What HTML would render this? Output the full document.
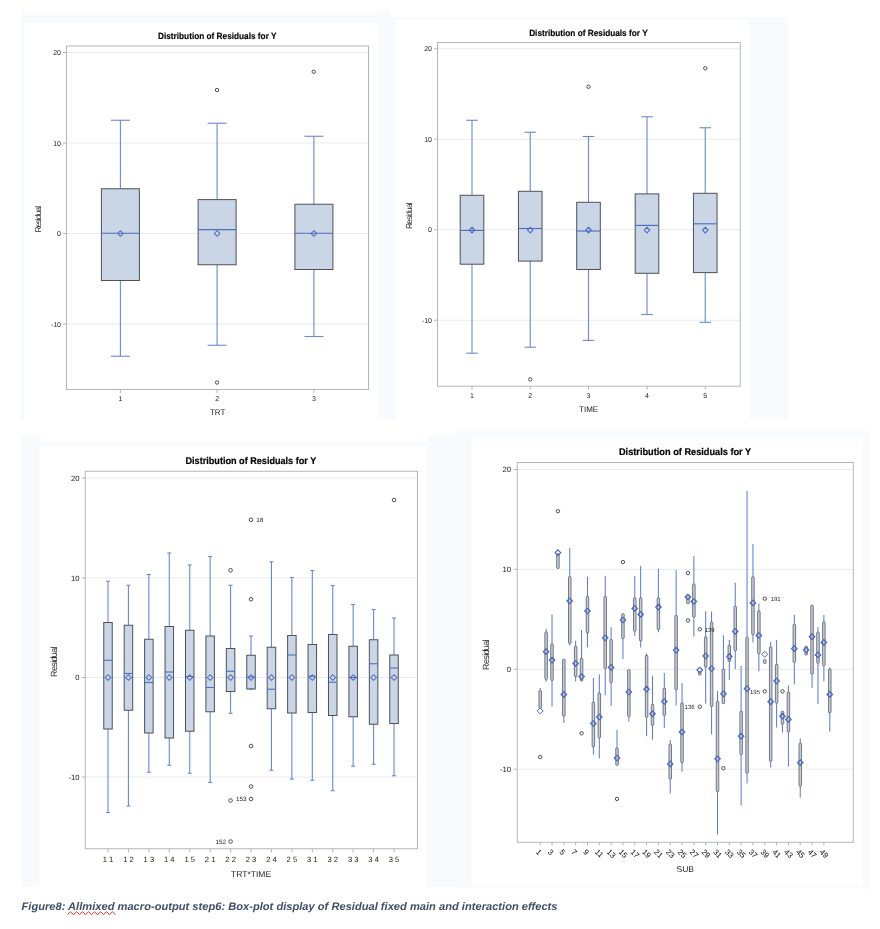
<!DOCTYPE html>
<html><head><meta charset="utf-8"><title>Figure 8</title>
<style>
html,body{margin:0;padding:0;background:#ffffff;}
body{width:880px;height:929px;overflow:hidden;font-family:"Liberation Sans",sans-serif;}
svg{display:block;filter:blur(0.3px);}
</style></head><body>
<svg width="880" height="929" viewBox="0 0 880 929" font-family="'Liberation Sans', sans-serif" text-rendering="geometricPrecision">
<rect width="880" height="929" fill="#ffffff"/>
<rect x="21.00" y="10.00" width="3.50" height="3.00" fill="#f9fafe"/>
<rect x="377.50" y="10.00" width="12.50" height="3.00" fill="#f9fafe"/>
<rect x="21.00" y="13.00" width="369.00" height="406.50" fill="#f9fafe"/>
<rect x="24.50" y="23.00" width="353.00" height="396.50" fill="#ffffff"/>
<rect x="390.50" y="17.00" width="397.50" height="402.00" fill="#f9fafe"/>
<rect x="395.50" y="20.00" width="354.00" height="399.00" fill="#ffffff"/>
<rect x="21.25" y="435.00" width="434.75" height="451.75" fill="#f9fafe"/>
<rect x="39.25" y="446.00" width="387.75" height="440.75" fill="#ffffff"/>
<rect x="39.25" y="435.00" width="387.75" height="7.00" fill="#ffffff"/>
<rect x="456.00" y="431.00" width="413.80" height="456.80" fill="#f9fafe"/>
<rect x="471.25" y="437.00" width="391.75" height="448.60" fill="#ffffff"/>
<line x1="66.50" y1="52.50" x2="368.50" y2="52.50" stroke="#ebebeb" stroke-width="1"/>
<line x1="66.50" y1="143.00" x2="368.50" y2="143.00" stroke="#ebebeb" stroke-width="1"/>
<line x1="66.50" y1="233.50" x2="368.50" y2="233.50" stroke="#ebebeb" stroke-width="1"/>
<line x1="66.50" y1="324.00" x2="368.50" y2="324.00" stroke="#ebebeb" stroke-width="1"/>
<rect x="66.50" y="46.00" width="302.00" height="343.50" fill="none" stroke="#b2b7bd" stroke-width="1"/>
<line x1="63.00" y1="52.50" x2="66.50" y2="52.50" stroke="#b2b7bd" stroke-width="1"/>
<text x="61.00" y="55.02" font-size="7" text-anchor="end" font-weight="normal" fill="#1a1a1a" >20</text>
<line x1="63.00" y1="143.00" x2="66.50" y2="143.00" stroke="#b2b7bd" stroke-width="1"/>
<text x="61.00" y="145.52" font-size="7" text-anchor="end" font-weight="normal" fill="#1a1a1a" >10</text>
<line x1="63.00" y1="233.50" x2="66.50" y2="233.50" stroke="#b2b7bd" stroke-width="1"/>
<text x="61.00" y="236.02" font-size="7" text-anchor="end" font-weight="normal" fill="#1a1a1a" >0</text>
<line x1="63.00" y1="324.00" x2="66.50" y2="324.00" stroke="#b2b7bd" stroke-width="1"/>
<text x="61.00" y="326.52" font-size="7" text-anchor="end" font-weight="normal" fill="#1a1a1a" >-10</text>
<text x="217.25" y="39.30" font-size="9.0" text-anchor="middle" font-weight="bold" fill="#000" stroke="#000" stroke-width="0.15" textLength="118.5" lengthAdjust="spacingAndGlyphs">Distribution of Residuals for Y</text>
<line x1="120.40" y1="120.25" x2="120.40" y2="188.75" stroke="#6e88cb" stroke-width="1.1"/>
<line x1="110.90" y1="120.25" x2="129.90" y2="120.25" stroke="#6e88cb" stroke-width="1.1"/>
<line x1="120.40" y1="280.50" x2="120.40" y2="356.25" stroke="#6e88cb" stroke-width="1.1"/>
<line x1="110.90" y1="356.25" x2="129.90" y2="356.25" stroke="#6e88cb" stroke-width="1.1"/>
<rect x="101.40" y="188.75" width="38.00" height="91.75" fill="#cad5e5" stroke="#4d515b" stroke-width="1.0"/>
<line x1="101.40" y1="233.20" x2="139.40" y2="233.20" stroke="#4f6dbd" stroke-width="1.15"/>
<path d="M117.60 233.50L120.40 230.70L123.20 233.50L120.40 236.30Z" fill="none" stroke="#4a69c2" stroke-width="1.05"/>
<line x1="217.10" y1="123.25" x2="217.10" y2="199.60" stroke="#6e88cb" stroke-width="1.1"/>
<line x1="207.60" y1="123.25" x2="226.60" y2="123.25" stroke="#6e88cb" stroke-width="1.1"/>
<line x1="217.10" y1="264.75" x2="217.10" y2="345.25" stroke="#6e88cb" stroke-width="1.1"/>
<line x1="207.60" y1="345.25" x2="226.60" y2="345.25" stroke="#6e88cb" stroke-width="1.1"/>
<rect x="198.10" y="199.60" width="38.00" height="65.15" fill="#cad5e5" stroke="#4d515b" stroke-width="1.0"/>
<line x1="198.10" y1="229.60" x2="236.10" y2="229.60" stroke="#4f6dbd" stroke-width="1.15"/>
<path d="M214.30 233.50L217.10 230.70L219.90 233.50L217.10 236.30Z" fill="none" stroke="#4a69c2" stroke-width="1.05"/>
<line x1="313.90" y1="136.25" x2="313.90" y2="204.25" stroke="#6e88cb" stroke-width="1.1"/>
<line x1="304.40" y1="136.25" x2="323.40" y2="136.25" stroke="#6e88cb" stroke-width="1.1"/>
<line x1="313.90" y1="269.50" x2="313.90" y2="336.50" stroke="#6e88cb" stroke-width="1.1"/>
<line x1="304.40" y1="336.50" x2="323.40" y2="336.50" stroke="#6e88cb" stroke-width="1.1"/>
<rect x="294.90" y="204.25" width="38.00" height="65.25" fill="#cad5e5" stroke="#4d515b" stroke-width="1.0"/>
<line x1="294.90" y1="233.25" x2="332.90" y2="233.25" stroke="#4f6dbd" stroke-width="1.15"/>
<path d="M311.10 233.50L313.90 230.70L316.70 233.50L313.90 236.30Z" fill="none" stroke="#4a69c2" stroke-width="1.05"/>
<circle cx="217.00" cy="90.00" r="1.7" fill="none" stroke="#333333" stroke-width="0.85"/>
<circle cx="217.00" cy="382.50" r="1.7" fill="none" stroke="#333333" stroke-width="0.85"/>
<circle cx="313.75" cy="71.75" r="1.7" fill="none" stroke="#333333" stroke-width="0.85"/>
<line x1="120.40" y1="389.50" x2="120.40" y2="393.00" stroke="#b2b7bd" stroke-width="1"/>
<text x="120.40" y="401.00" font-size="7" text-anchor="middle" font-weight="normal" fill="#1a1a1a" >1</text>
<line x1="217.10" y1="389.50" x2="217.10" y2="393.00" stroke="#b2b7bd" stroke-width="1"/>
<text x="217.10" y="401.00" font-size="7" text-anchor="middle" font-weight="normal" fill="#1a1a1a" >2</text>
<line x1="313.90" y1="389.50" x2="313.90" y2="393.00" stroke="#b2b7bd" stroke-width="1"/>
<text x="313.90" y="401.00" font-size="7" text-anchor="middle" font-weight="normal" fill="#1a1a1a" >3</text>
<text x="217.60" y="414.80" font-size="8" text-anchor="middle" font-weight="normal" fill="#1a1a1a" >TRT</text>
<text transform="translate(40.9,219.6) rotate(-90)" font-size="8.4" text-anchor="middle" fill="#2a2a2a" letter-spacing="-0.85">Residual</text>
<line x1="437.50" y1="48.75" x2="740.25" y2="48.75" stroke="#ebebeb" stroke-width="1"/>
<line x1="437.50" y1="139.25" x2="740.25" y2="139.25" stroke="#ebebeb" stroke-width="1"/>
<line x1="437.50" y1="229.75" x2="740.25" y2="229.75" stroke="#ebebeb" stroke-width="1"/>
<line x1="437.50" y1="320.25" x2="740.25" y2="320.25" stroke="#ebebeb" stroke-width="1"/>
<rect x="437.50" y="42.50" width="302.75" height="343.70" fill="none" stroke="#b2b7bd" stroke-width="1"/>
<line x1="434.00" y1="48.75" x2="437.50" y2="48.75" stroke="#b2b7bd" stroke-width="1"/>
<text x="432.00" y="51.27" font-size="7" text-anchor="end" font-weight="normal" fill="#1a1a1a" >20</text>
<line x1="434.00" y1="139.25" x2="437.50" y2="139.25" stroke="#b2b7bd" stroke-width="1"/>
<text x="432.00" y="141.77" font-size="7" text-anchor="end" font-weight="normal" fill="#1a1a1a" >10</text>
<line x1="434.00" y1="229.75" x2="437.50" y2="229.75" stroke="#b2b7bd" stroke-width="1"/>
<text x="432.00" y="232.27" font-size="7" text-anchor="end" font-weight="normal" fill="#1a1a1a" >0</text>
<line x1="434.00" y1="320.25" x2="437.50" y2="320.25" stroke="#b2b7bd" stroke-width="1"/>
<text x="432.00" y="322.77" font-size="7" text-anchor="end" font-weight="normal" fill="#1a1a1a" >-10</text>
<text x="588.40" y="35.80" font-size="9.0" text-anchor="middle" font-weight="bold" fill="#000" stroke="#000" stroke-width="0.15" textLength="118.5" lengthAdjust="spacingAndGlyphs">Distribution of Residuals for Y</text>
<line x1="472.00" y1="120.25" x2="472.00" y2="195.30" stroke="#6e88cb" stroke-width="1.1"/>
<line x1="466.25" y1="120.25" x2="477.75" y2="120.25" stroke="#6e88cb" stroke-width="1.1"/>
<line x1="472.00" y1="264.20" x2="472.00" y2="353.20" stroke="#6e88cb" stroke-width="1.1"/>
<line x1="466.25" y1="353.20" x2="477.75" y2="353.20" stroke="#6e88cb" stroke-width="1.1"/>
<rect x="460.20" y="195.30" width="23.60" height="68.90" fill="#cad5e5" stroke="#4d515b" stroke-width="1.0"/>
<line x1="460.20" y1="230.40" x2="483.80" y2="230.40" stroke="#4f6dbd" stroke-width="1.15"/>
<path d="M469.20 230.10L472.00 227.30L474.80 230.10L472.00 232.90Z" fill="none" stroke="#4a69c2" stroke-width="1.05"/>
<line x1="530.25" y1="132.25" x2="530.25" y2="191.30" stroke="#6e88cb" stroke-width="1.1"/>
<line x1="524.50" y1="132.25" x2="536.00" y2="132.25" stroke="#6e88cb" stroke-width="1.1"/>
<line x1="530.25" y1="261.10" x2="530.25" y2="347.20" stroke="#6e88cb" stroke-width="1.1"/>
<line x1="524.50" y1="347.20" x2="536.00" y2="347.20" stroke="#6e88cb" stroke-width="1.1"/>
<rect x="518.45" y="191.30" width="23.60" height="69.80" fill="#cad5e5" stroke="#4d515b" stroke-width="1.0"/>
<line x1="518.45" y1="228.50" x2="542.05" y2="228.50" stroke="#4f6dbd" stroke-width="1.15"/>
<path d="M527.45 230.10L530.25 227.30L533.05 230.10L530.25 232.90Z" fill="none" stroke="#4a69c2" stroke-width="1.05"/>
<line x1="588.50" y1="136.50" x2="588.50" y2="202.30" stroke="#6e88cb" stroke-width="1.1"/>
<line x1="582.75" y1="136.50" x2="594.25" y2="136.50" stroke="#6e88cb" stroke-width="1.1"/>
<line x1="588.50" y1="269.50" x2="588.50" y2="340.40" stroke="#6e88cb" stroke-width="1.1"/>
<line x1="582.75" y1="340.40" x2="594.25" y2="340.40" stroke="#6e88cb" stroke-width="1.1"/>
<rect x="576.70" y="202.30" width="23.60" height="67.20" fill="#cad5e5" stroke="#4d515b" stroke-width="1.0"/>
<line x1="576.70" y1="231.00" x2="600.30" y2="231.00" stroke="#4f6dbd" stroke-width="1.15"/>
<path d="M585.70 230.10L588.50 227.30L591.30 230.10L588.50 232.90Z" fill="none" stroke="#4a69c2" stroke-width="1.05"/>
<line x1="647.00" y1="116.75" x2="647.00" y2="193.90" stroke="#6e88cb" stroke-width="1.1"/>
<line x1="641.25" y1="116.75" x2="652.75" y2="116.75" stroke="#6e88cb" stroke-width="1.1"/>
<line x1="647.00" y1="273.30" x2="647.00" y2="314.50" stroke="#6e88cb" stroke-width="1.1"/>
<line x1="641.25" y1="314.50" x2="652.75" y2="314.50" stroke="#6e88cb" stroke-width="1.1"/>
<rect x="635.20" y="193.90" width="23.60" height="79.40" fill="#cad5e5" stroke="#4d515b" stroke-width="1.0"/>
<line x1="635.20" y1="225.40" x2="658.80" y2="225.40" stroke="#4f6dbd" stroke-width="1.15"/>
<path d="M644.20 230.10L647.00 227.30L649.80 230.10L647.00 232.90Z" fill="none" stroke="#4a69c2" stroke-width="1.05"/>
<line x1="705.25" y1="127.75" x2="705.25" y2="193.30" stroke="#6e88cb" stroke-width="1.1"/>
<line x1="699.50" y1="127.75" x2="711.00" y2="127.75" stroke="#6e88cb" stroke-width="1.1"/>
<line x1="705.25" y1="272.60" x2="705.25" y2="322.30" stroke="#6e88cb" stroke-width="1.1"/>
<line x1="699.50" y1="322.30" x2="711.00" y2="322.30" stroke="#6e88cb" stroke-width="1.1"/>
<rect x="693.45" y="193.30" width="23.60" height="79.30" fill="#cad5e5" stroke="#4d515b" stroke-width="1.0"/>
<line x1="693.45" y1="223.80" x2="717.05" y2="223.80" stroke="#4f6dbd" stroke-width="1.15"/>
<path d="M702.45 230.10L705.25 227.30L708.05 230.10L705.25 232.90Z" fill="none" stroke="#4a69c2" stroke-width="1.05"/>
<circle cx="530.25" cy="379.40" r="1.7" fill="none" stroke="#333333" stroke-width="0.85"/>
<circle cx="588.50" cy="86.75" r="1.7" fill="none" stroke="#333333" stroke-width="0.85"/>
<circle cx="705.25" cy="68.25" r="1.7" fill="none" stroke="#333333" stroke-width="0.85"/>
<line x1="472.00" y1="386.20" x2="472.00" y2="389.70" stroke="#b2b7bd" stroke-width="1"/>
<text x="472.00" y="398.10" font-size="7" text-anchor="middle" font-weight="normal" fill="#1a1a1a" >1</text>
<line x1="530.25" y1="386.20" x2="530.25" y2="389.70" stroke="#b2b7bd" stroke-width="1"/>
<text x="530.25" y="398.10" font-size="7" text-anchor="middle" font-weight="normal" fill="#1a1a1a" >2</text>
<line x1="588.50" y1="386.20" x2="588.50" y2="389.70" stroke="#b2b7bd" stroke-width="1"/>
<text x="588.50" y="398.10" font-size="7" text-anchor="middle" font-weight="normal" fill="#1a1a1a" >3</text>
<line x1="647.00" y1="386.20" x2="647.00" y2="389.70" stroke="#b2b7bd" stroke-width="1"/>
<text x="647.00" y="398.10" font-size="7" text-anchor="middle" font-weight="normal" fill="#1a1a1a" >4</text>
<line x1="705.25" y1="386.20" x2="705.25" y2="389.70" stroke="#b2b7bd" stroke-width="1"/>
<text x="705.25" y="398.10" font-size="7" text-anchor="middle" font-weight="normal" fill="#1a1a1a" >5</text>
<text x="588.60" y="411.50" font-size="8" text-anchor="middle" font-weight="normal" fill="#1a1a1a" >TIME</text>
<text transform="translate(411.9,216.2) rotate(-90)" font-size="8.4" text-anchor="middle" fill="#2a2a2a" letter-spacing="-0.85">Residual</text>
<line x1="85.25" y1="478.00" x2="417.50" y2="478.00" stroke="#ebebeb" stroke-width="1"/>
<line x1="85.25" y1="577.75" x2="417.50" y2="577.75" stroke="#ebebeb" stroke-width="1"/>
<line x1="85.25" y1="677.50" x2="417.50" y2="677.50" stroke="#ebebeb" stroke-width="1"/>
<line x1="85.25" y1="777.00" x2="417.50" y2="777.00" stroke="#ebebeb" stroke-width="1"/>
<rect x="85.25" y="471.25" width="332.25" height="377.50" fill="none" stroke="#b2b7bd" stroke-width="1"/>
<line x1="81.75" y1="478.00" x2="85.25" y2="478.00" stroke="#b2b7bd" stroke-width="1"/>
<text x="79.50" y="480.77" font-size="7.7" text-anchor="end" font-weight="normal" fill="#1a1a1a" >20</text>
<line x1="81.75" y1="577.75" x2="85.25" y2="577.75" stroke="#b2b7bd" stroke-width="1"/>
<text x="79.50" y="580.52" font-size="7.7" text-anchor="end" font-weight="normal" fill="#1a1a1a" >10</text>
<line x1="81.75" y1="677.50" x2="85.25" y2="677.50" stroke="#b2b7bd" stroke-width="1"/>
<text x="79.50" y="680.27" font-size="7.7" text-anchor="end" font-weight="normal" fill="#1a1a1a" >0</text>
<line x1="81.75" y1="777.00" x2="85.25" y2="777.00" stroke="#b2b7bd" stroke-width="1"/>
<text x="79.50" y="779.77" font-size="7.7" text-anchor="end" font-weight="normal" fill="#1a1a1a" >-10</text>
<text x="250.90" y="464.00" font-size="9.8" text-anchor="middle" font-weight="bold" fill="#000" stroke="#000" stroke-width="0.2" textLength="130.75" lengthAdjust="spacingAndGlyphs">Distribution of Residuals for Y</text>
<line x1="108.00" y1="581.25" x2="108.00" y2="622.50" stroke="#6e88cb" stroke-width="1.1"/>
<line x1="106.00" y1="581.25" x2="110.00" y2="581.25" stroke="#6e88cb" stroke-width="1.1"/>
<line x1="108.00" y1="729.00" x2="108.00" y2="812.50" stroke="#6e88cb" stroke-width="1.1"/>
<line x1="106.00" y1="812.50" x2="110.00" y2="812.50" stroke="#6e88cb" stroke-width="1.1"/>
<rect x="103.75" y="622.50" width="8.50" height="106.50" fill="#cad5e5" stroke="#4d515b" stroke-width="1.0"/>
<line x1="103.75" y1="660.25" x2="112.25" y2="660.25" stroke="#4f6dbd" stroke-width="1.1"/>
<path d="M105.20 677.50L108.00 674.70L110.80 677.50L108.00 680.30Z" fill="none" stroke="#4a69c2" stroke-width="1.05"/>
<line x1="128.43" y1="585.25" x2="128.43" y2="625.25" stroke="#6e88cb" stroke-width="1.1"/>
<line x1="126.43" y1="585.25" x2="130.43" y2="585.25" stroke="#6e88cb" stroke-width="1.1"/>
<line x1="128.43" y1="710.25" x2="128.43" y2="806.00" stroke="#6e88cb" stroke-width="1.1"/>
<line x1="126.43" y1="806.00" x2="130.43" y2="806.00" stroke="#6e88cb" stroke-width="1.1"/>
<rect x="124.18" y="625.25" width="8.50" height="85.00" fill="#cad5e5" stroke="#4d515b" stroke-width="1.0"/>
<line x1="124.18" y1="673.50" x2="132.68" y2="673.50" stroke="#4f6dbd" stroke-width="1.1"/>
<path d="M125.63 677.50L128.43 674.70L131.23 677.50L128.43 680.30Z" fill="none" stroke="#4a69c2" stroke-width="1.05"/>
<line x1="148.86" y1="574.50" x2="148.86" y2="639.25" stroke="#6e88cb" stroke-width="1.1"/>
<line x1="146.86" y1="574.50" x2="150.86" y2="574.50" stroke="#6e88cb" stroke-width="1.1"/>
<line x1="148.86" y1="733.00" x2="148.86" y2="772.25" stroke="#6e88cb" stroke-width="1.1"/>
<line x1="146.86" y1="772.25" x2="150.86" y2="772.25" stroke="#6e88cb" stroke-width="1.1"/>
<rect x="144.61" y="639.25" width="8.50" height="93.75" fill="#cad5e5" stroke="#4d515b" stroke-width="1.0"/>
<line x1="144.61" y1="682.50" x2="153.11" y2="682.50" stroke="#4f6dbd" stroke-width="1.1"/>
<path d="M146.06 677.50L148.86 674.70L151.66 677.50L148.86 680.30Z" fill="none" stroke="#4a69c2" stroke-width="1.05"/>
<line x1="169.29" y1="553.00" x2="169.29" y2="626.50" stroke="#6e88cb" stroke-width="1.1"/>
<line x1="167.29" y1="553.00" x2="171.29" y2="553.00" stroke="#6e88cb" stroke-width="1.1"/>
<line x1="169.29" y1="738.00" x2="169.29" y2="765.25" stroke="#6e88cb" stroke-width="1.1"/>
<line x1="167.29" y1="765.25" x2="171.29" y2="765.25" stroke="#6e88cb" stroke-width="1.1"/>
<rect x="165.04" y="626.50" width="8.50" height="111.50" fill="#cad5e5" stroke="#4d515b" stroke-width="1.0"/>
<line x1="165.04" y1="672.00" x2="173.54" y2="672.00" stroke="#4f6dbd" stroke-width="1.1"/>
<path d="M166.49 677.50L169.29 674.70L172.09 677.50L169.29 680.30Z" fill="none" stroke="#4a69c2" stroke-width="1.05"/>
<line x1="189.72" y1="565.00" x2="189.72" y2="630.25" stroke="#6e88cb" stroke-width="1.1"/>
<line x1="187.72" y1="565.00" x2="191.72" y2="565.00" stroke="#6e88cb" stroke-width="1.1"/>
<line x1="189.72" y1="731.25" x2="189.72" y2="773.25" stroke="#6e88cb" stroke-width="1.1"/>
<line x1="187.72" y1="773.25" x2="191.72" y2="773.25" stroke="#6e88cb" stroke-width="1.1"/>
<rect x="185.47" y="630.25" width="8.50" height="101.00" fill="#cad5e5" stroke="#4d515b" stroke-width="1.0"/>
<line x1="185.47" y1="676.50" x2="193.97" y2="676.50" stroke="#4f6dbd" stroke-width="1.1"/>
<path d="M186.92 677.50L189.72 674.70L192.52 677.50L189.72 680.30Z" fill="none" stroke="#4a69c2" stroke-width="1.05"/>
<line x1="210.15" y1="556.50" x2="210.15" y2="636.00" stroke="#6e88cb" stroke-width="1.1"/>
<line x1="208.15" y1="556.50" x2="212.15" y2="556.50" stroke="#6e88cb" stroke-width="1.1"/>
<line x1="210.15" y1="711.75" x2="210.15" y2="782.50" stroke="#6e88cb" stroke-width="1.1"/>
<line x1="208.15" y1="782.50" x2="212.15" y2="782.50" stroke="#6e88cb" stroke-width="1.1"/>
<rect x="205.90" y="636.00" width="8.50" height="75.75" fill="#cad5e5" stroke="#4d515b" stroke-width="1.0"/>
<line x1="205.90" y1="687.50" x2="214.40" y2="687.50" stroke="#4f6dbd" stroke-width="1.1"/>
<path d="M207.35 677.50L210.15 674.70L212.95 677.50L210.15 680.30Z" fill="none" stroke="#4a69c2" stroke-width="1.05"/>
<line x1="230.58" y1="585.25" x2="230.58" y2="648.50" stroke="#6e88cb" stroke-width="1.1"/>
<line x1="228.58" y1="585.25" x2="232.58" y2="585.25" stroke="#6e88cb" stroke-width="1.1"/>
<line x1="230.58" y1="691.50" x2="230.58" y2="713.25" stroke="#6e88cb" stroke-width="1.1"/>
<line x1="228.58" y1="713.25" x2="232.58" y2="713.25" stroke="#6e88cb" stroke-width="1.1"/>
<rect x="226.33" y="648.50" width="8.50" height="43.00" fill="#cad5e5" stroke="#4d515b" stroke-width="1.0"/>
<line x1="226.33" y1="671.25" x2="234.83" y2="671.25" stroke="#4f6dbd" stroke-width="1.1"/>
<path d="M227.78 677.50L230.58 674.70L233.38 677.50L230.58 680.30Z" fill="none" stroke="#4a69c2" stroke-width="1.05"/>
<line x1="251.01" y1="636.00" x2="251.01" y2="655.25" stroke="#6e88cb" stroke-width="1.1"/>
<line x1="249.01" y1="636.00" x2="253.01" y2="636.00" stroke="#6e88cb" stroke-width="1.1"/>
<rect x="246.76" y="655.25" width="8.50" height="33.75" fill="#cad5e5" stroke="#4d515b" stroke-width="1.0"/>
<line x1="246.76" y1="677.00" x2="255.26" y2="677.00" stroke="#4f6dbd" stroke-width="1.1"/>
<path d="M248.21 677.50L251.01 674.70L253.81 677.50L251.01 680.30Z" fill="none" stroke="#4a69c2" stroke-width="1.05"/>
<line x1="271.44" y1="561.75" x2="271.44" y2="647.25" stroke="#6e88cb" stroke-width="1.1"/>
<line x1="269.44" y1="561.75" x2="273.44" y2="561.75" stroke="#6e88cb" stroke-width="1.1"/>
<line x1="271.44" y1="708.75" x2="271.44" y2="770.25" stroke="#6e88cb" stroke-width="1.1"/>
<line x1="269.44" y1="770.25" x2="273.44" y2="770.25" stroke="#6e88cb" stroke-width="1.1"/>
<rect x="267.19" y="647.25" width="8.50" height="61.50" fill="#cad5e5" stroke="#4d515b" stroke-width="1.0"/>
<line x1="267.19" y1="689.25" x2="275.69" y2="689.25" stroke="#4f6dbd" stroke-width="1.1"/>
<path d="M268.64 677.50L271.44 674.70L274.24 677.50L271.44 680.30Z" fill="none" stroke="#4a69c2" stroke-width="1.05"/>
<line x1="291.87" y1="577.50" x2="291.87" y2="635.50" stroke="#6e88cb" stroke-width="1.1"/>
<line x1="289.87" y1="577.50" x2="293.87" y2="577.50" stroke="#6e88cb" stroke-width="1.1"/>
<line x1="291.87" y1="713.00" x2="291.87" y2="779.00" stroke="#6e88cb" stroke-width="1.1"/>
<line x1="289.87" y1="779.00" x2="293.87" y2="779.00" stroke="#6e88cb" stroke-width="1.1"/>
<rect x="287.62" y="635.50" width="8.50" height="77.50" fill="#cad5e5" stroke="#4d515b" stroke-width="1.0"/>
<line x1="287.62" y1="655.00" x2="296.12" y2="655.00" stroke="#4f6dbd" stroke-width="1.1"/>
<path d="M289.07 677.50L291.87 674.70L294.67 677.50L291.87 680.30Z" fill="none" stroke="#4a69c2" stroke-width="1.05"/>
<line x1="312.30" y1="570.50" x2="312.30" y2="644.50" stroke="#6e88cb" stroke-width="1.1"/>
<line x1="310.30" y1="570.50" x2="314.30" y2="570.50" stroke="#6e88cb" stroke-width="1.1"/>
<line x1="312.30" y1="712.50" x2="312.30" y2="780.25" stroke="#6e88cb" stroke-width="1.1"/>
<line x1="310.30" y1="780.25" x2="314.30" y2="780.25" stroke="#6e88cb" stroke-width="1.1"/>
<rect x="308.05" y="644.50" width="8.50" height="68.00" fill="#cad5e5" stroke="#4d515b" stroke-width="1.0"/>
<line x1="308.05" y1="676.25" x2="316.55" y2="676.25" stroke="#4f6dbd" stroke-width="1.1"/>
<path d="M309.50 677.50L312.30 674.70L315.10 677.50L312.30 680.30Z" fill="none" stroke="#4a69c2" stroke-width="1.05"/>
<line x1="332.73" y1="585.50" x2="332.73" y2="634.50" stroke="#6e88cb" stroke-width="1.1"/>
<line x1="330.73" y1="585.50" x2="334.73" y2="585.50" stroke="#6e88cb" stroke-width="1.1"/>
<line x1="332.73" y1="715.50" x2="332.73" y2="790.75" stroke="#6e88cb" stroke-width="1.1"/>
<line x1="330.73" y1="790.75" x2="334.73" y2="790.75" stroke="#6e88cb" stroke-width="1.1"/>
<rect x="328.48" y="634.50" width="8.50" height="81.00" fill="#cad5e5" stroke="#4d515b" stroke-width="1.0"/>
<line x1="328.48" y1="682.25" x2="336.98" y2="682.25" stroke="#4f6dbd" stroke-width="1.1"/>
<path d="M329.93 677.50L332.73 674.70L335.53 677.50L332.73 680.30Z" fill="none" stroke="#4a69c2" stroke-width="1.05"/>
<line x1="353.16" y1="604.50" x2="353.16" y2="646.25" stroke="#6e88cb" stroke-width="1.1"/>
<line x1="351.16" y1="604.50" x2="355.16" y2="604.50" stroke="#6e88cb" stroke-width="1.1"/>
<line x1="353.16" y1="716.75" x2="353.16" y2="766.25" stroke="#6e88cb" stroke-width="1.1"/>
<line x1="351.16" y1="766.25" x2="355.16" y2="766.25" stroke="#6e88cb" stroke-width="1.1"/>
<rect x="348.91" y="646.25" width="8.50" height="70.50" fill="#cad5e5" stroke="#4d515b" stroke-width="1.0"/>
<line x1="348.91" y1="677.50" x2="357.41" y2="677.50" stroke="#4f6dbd" stroke-width="1.1"/>
<path d="M350.36 677.50L353.16 674.70L355.96 677.50L353.16 680.30Z" fill="none" stroke="#4a69c2" stroke-width="1.05"/>
<line x1="373.59" y1="609.50" x2="373.59" y2="639.75" stroke="#6e88cb" stroke-width="1.1"/>
<line x1="371.59" y1="609.50" x2="375.59" y2="609.50" stroke="#6e88cb" stroke-width="1.1"/>
<line x1="373.59" y1="724.25" x2="373.59" y2="764.25" stroke="#6e88cb" stroke-width="1.1"/>
<line x1="371.59" y1="764.25" x2="375.59" y2="764.25" stroke="#6e88cb" stroke-width="1.1"/>
<rect x="369.34" y="639.75" width="8.50" height="84.50" fill="#cad5e5" stroke="#4d515b" stroke-width="1.0"/>
<line x1="369.34" y1="663.75" x2="377.84" y2="663.75" stroke="#4f6dbd" stroke-width="1.1"/>
<path d="M370.79 677.50L373.59 674.70L376.39 677.50L373.59 680.30Z" fill="none" stroke="#4a69c2" stroke-width="1.05"/>
<line x1="394.02" y1="618.00" x2="394.02" y2="655.00" stroke="#6e88cb" stroke-width="1.1"/>
<line x1="392.02" y1="618.00" x2="396.02" y2="618.00" stroke="#6e88cb" stroke-width="1.1"/>
<line x1="394.02" y1="723.50" x2="394.02" y2="775.75" stroke="#6e88cb" stroke-width="1.1"/>
<line x1="392.02" y1="775.75" x2="396.02" y2="775.75" stroke="#6e88cb" stroke-width="1.1"/>
<rect x="389.77" y="655.00" width="8.50" height="68.50" fill="#cad5e5" stroke="#4d515b" stroke-width="1.0"/>
<line x1="389.77" y1="668.00" x2="398.27" y2="668.00" stroke="#4f6dbd" stroke-width="1.1"/>
<path d="M391.22 677.50L394.02 674.70L396.82 677.50L394.02 680.30Z" fill="none" stroke="#4a69c2" stroke-width="1.05"/>
<line x1="249.01" y1="689.00" x2="253.01" y2="689.00" stroke="#4f6dbd" stroke-width="1"/>
<circle cx="230.58" cy="570.25" r="1.8" fill="none" stroke="#333333" stroke-width="0.85"/>
<circle cx="230.58" cy="800.50" r="1.8" fill="none" stroke="#333333" stroke-width="0.85"/>
<circle cx="230.58" cy="841.50" r="1.8" fill="none" stroke="#333333" stroke-width="0.85"/>
<circle cx="251.01" cy="519.75" r="1.8" fill="none" stroke="#333333" stroke-width="0.85"/>
<circle cx="251.01" cy="599.25" r="1.8" fill="none" stroke="#333333" stroke-width="0.85"/>
<circle cx="251.01" cy="746.00" r="1.8" fill="none" stroke="#333333" stroke-width="0.85"/>
<circle cx="251.01" cy="786.50" r="1.8" fill="none" stroke="#333333" stroke-width="0.85"/>
<circle cx="251.01" cy="799.00" r="1.8" fill="none" stroke="#333333" stroke-width="0.85"/>
<circle cx="394.02" cy="500.00" r="1.8" fill="none" stroke="#333333" stroke-width="0.85"/>
<text x="256.30" y="522.10" font-size="6.3" text-anchor="start" font-weight="normal" fill="#1a1a1a" >18</text>
<text x="246.40" y="801.20" font-size="6.3" text-anchor="end" font-weight="normal" fill="#1a1a1a" >153</text>
<text x="226.00" y="843.80" font-size="6.3" text-anchor="end" font-weight="normal" fill="#1a1a1a" >152</text>
<line x1="108.00" y1="848.75" x2="108.00" y2="852.50" stroke="#b2b7bd" stroke-width="1"/>
<text x="108.00" y="862.00" font-size="7.6" text-anchor="middle" font-weight="normal" fill="#1a1a1a" >1 1</text>
<line x1="128.43" y1="848.75" x2="128.43" y2="852.50" stroke="#b2b7bd" stroke-width="1"/>
<text x="128.43" y="862.00" font-size="7.6" text-anchor="middle" font-weight="normal" fill="#1a1a1a" >1 2</text>
<line x1="148.86" y1="848.75" x2="148.86" y2="852.50" stroke="#b2b7bd" stroke-width="1"/>
<text x="148.86" y="862.00" font-size="7.6" text-anchor="middle" font-weight="normal" fill="#1a1a1a" >1 3</text>
<line x1="169.29" y1="848.75" x2="169.29" y2="852.50" stroke="#b2b7bd" stroke-width="1"/>
<text x="169.29" y="862.00" font-size="7.6" text-anchor="middle" font-weight="normal" fill="#1a1a1a" >1 4</text>
<line x1="189.72" y1="848.75" x2="189.72" y2="852.50" stroke="#b2b7bd" stroke-width="1"/>
<text x="189.72" y="862.00" font-size="7.6" text-anchor="middle" font-weight="normal" fill="#1a1a1a" >1 5</text>
<line x1="210.15" y1="848.75" x2="210.15" y2="852.50" stroke="#b2b7bd" stroke-width="1"/>
<text x="210.15" y="862.00" font-size="7.6" text-anchor="middle" font-weight="normal" fill="#1a1a1a" >2 1</text>
<line x1="230.58" y1="848.75" x2="230.58" y2="852.50" stroke="#b2b7bd" stroke-width="1"/>
<text x="230.58" y="862.00" font-size="7.6" text-anchor="middle" font-weight="normal" fill="#1a1a1a" >2 2</text>
<line x1="251.01" y1="848.75" x2="251.01" y2="852.50" stroke="#b2b7bd" stroke-width="1"/>
<text x="251.01" y="862.00" font-size="7.6" text-anchor="middle" font-weight="normal" fill="#1a1a1a" >2 3</text>
<line x1="271.44" y1="848.75" x2="271.44" y2="852.50" stroke="#b2b7bd" stroke-width="1"/>
<text x="271.44" y="862.00" font-size="7.6" text-anchor="middle" font-weight="normal" fill="#1a1a1a" >2 4</text>
<line x1="291.87" y1="848.75" x2="291.87" y2="852.50" stroke="#b2b7bd" stroke-width="1"/>
<text x="291.87" y="862.00" font-size="7.6" text-anchor="middle" font-weight="normal" fill="#1a1a1a" >2 5</text>
<line x1="312.30" y1="848.75" x2="312.30" y2="852.50" stroke="#b2b7bd" stroke-width="1"/>
<text x="312.30" y="862.00" font-size="7.6" text-anchor="middle" font-weight="normal" fill="#1a1a1a" >3 1</text>
<line x1="332.73" y1="848.75" x2="332.73" y2="852.50" stroke="#b2b7bd" stroke-width="1"/>
<text x="332.73" y="862.00" font-size="7.6" text-anchor="middle" font-weight="normal" fill="#1a1a1a" >3 2</text>
<line x1="353.16" y1="848.75" x2="353.16" y2="852.50" stroke="#b2b7bd" stroke-width="1"/>
<text x="353.16" y="862.00" font-size="7.6" text-anchor="middle" font-weight="normal" fill="#1a1a1a" >3 3</text>
<line x1="373.59" y1="848.75" x2="373.59" y2="852.50" stroke="#b2b7bd" stroke-width="1"/>
<text x="373.59" y="862.00" font-size="7.6" text-anchor="middle" font-weight="normal" fill="#1a1a1a" >3 4</text>
<line x1="394.02" y1="848.75" x2="394.02" y2="852.50" stroke="#b2b7bd" stroke-width="1"/>
<text x="394.02" y="862.00" font-size="7.6" text-anchor="middle" font-weight="normal" fill="#1a1a1a" >3 5</text>
<text x="251.10" y="876.80" font-size="8.5" text-anchor="middle" font-weight="normal" fill="#1a1a1a" >TRT*TIME</text>
<text transform="translate(57,662) rotate(-90)" font-size="9" text-anchor="middle" fill="#2a2a2a" letter-spacing="-0.65">Residual</text>
<line x1="517.25" y1="469.50" x2="853.30" y2="469.50" stroke="#ebebeb" stroke-width="1"/>
<line x1="517.25" y1="569.40" x2="853.30" y2="569.40" stroke="#ebebeb" stroke-width="1"/>
<line x1="517.25" y1="669.30" x2="853.30" y2="669.30" stroke="#ebebeb" stroke-width="1"/>
<line x1="517.25" y1="769.20" x2="853.30" y2="769.20" stroke="#ebebeb" stroke-width="1"/>
<rect x="517.25" y="462.50" width="336.05" height="379.80" fill="none" stroke="#b2b7bd" stroke-width="1"/>
<line x1="513.75" y1="469.50" x2="517.25" y2="469.50" stroke="#b2b7bd" stroke-width="1"/>
<text x="511.00" y="472.27" font-size="7.7" text-anchor="end" font-weight="normal" fill="#1a1a1a" >20</text>
<line x1="513.75" y1="569.40" x2="517.25" y2="569.40" stroke="#b2b7bd" stroke-width="1"/>
<text x="511.00" y="572.17" font-size="7.7" text-anchor="end" font-weight="normal" fill="#1a1a1a" >10</text>
<line x1="513.75" y1="669.30" x2="517.25" y2="669.30" stroke="#b2b7bd" stroke-width="1"/>
<text x="511.00" y="672.07" font-size="7.7" text-anchor="end" font-weight="normal" fill="#1a1a1a" >0</text>
<line x1="513.75" y1="769.20" x2="517.25" y2="769.20" stroke="#b2b7bd" stroke-width="1"/>
<text x="511.00" y="771.97" font-size="7.7" text-anchor="end" font-weight="normal" fill="#1a1a1a" >-10</text>
<text x="685.10" y="455.00" font-size="9.8" text-anchor="middle" font-weight="bold" fill="#000" stroke="#000" stroke-width="0.2" textLength="132.25" lengthAdjust="spacingAndGlyphs">Distribution of Residuals for Y</text>
<line x1="540.20" y1="688.00" x2="540.20" y2="690.60" stroke="#5a78c6" stroke-width="1"/>
<rect x="538.95" y="690.60" width="2.5" height="17.80" rx="0.7" fill="#c6cfdd" stroke="#565b66" stroke-width="0.8"/>
<path d="M537.20 710.90L540.20 707.90L543.20 710.90L540.20 713.90Z" fill="#ffffff" stroke="#4a69c2" stroke-width="1.0"/>
<circle cx="540.20" cy="757.10" r="1.7" fill="none" stroke="#333333" stroke-width="0.85"/>
<line x1="546.11" y1="628.70" x2="546.11" y2="632.20" stroke="#5a78c6" stroke-width="1"/>
<line x1="546.11" y1="679.40" x2="546.11" y2="681.80" stroke="#5a78c6" stroke-width="1"/>
<rect x="544.86" y="632.20" width="2.5" height="47.20" rx="0.7" fill="#c6cfdd" stroke="#565b66" stroke-width="0.8"/>
<path d="M543.31 651.70L546.11 648.90L548.91 651.70L546.11 654.50Z" fill="none" stroke="#4465c0" stroke-width="1.1"/>
<line x1="552.02" y1="614.70" x2="552.02" y2="644.00" stroke="#5a78c6" stroke-width="1"/>
<line x1="552.02" y1="680.40" x2="552.02" y2="706.60" stroke="#5a78c6" stroke-width="1"/>
<rect x="550.77" y="644.00" width="2.5" height="36.40" rx="0.7" fill="#c6cfdd" stroke="#565b66" stroke-width="0.8"/>
<path d="M549.22 660.10L552.02 657.30L554.82 660.10L552.02 662.90Z" fill="none" stroke="#4465c0" stroke-width="1.1"/>
<rect x="556.68" y="553.80" width="2.5" height="14.70" rx="0.7" fill="#c6cfdd" stroke="#565b66" stroke-width="0.8"/>
<path d="M555.13 552.70L557.93 549.90L560.73 552.70L557.93 555.50Z" fill="none" stroke="#4465c0" stroke-width="1.1"/>
<circle cx="557.93" cy="511.20" r="1.7" fill="none" stroke="#333333" stroke-width="0.85"/>
<line x1="563.84" y1="716.10" x2="563.84" y2="723.00" stroke="#5a78c6" stroke-width="1"/>
<rect x="562.59" y="659.20" width="2.5" height="56.90" rx="0.7" fill="#c6cfdd" stroke="#565b66" stroke-width="0.8"/>
<path d="M561.04 694.40L563.84 691.60L566.64 694.40L563.84 697.20Z" fill="none" stroke="#4465c0" stroke-width="1.1"/>
<line x1="569.75" y1="548.00" x2="569.75" y2="576.60" stroke="#5a78c6" stroke-width="1"/>
<line x1="569.75" y1="643.40" x2="569.75" y2="645.50" stroke="#5a78c6" stroke-width="1"/>
<rect x="568.50" y="576.60" width="2.5" height="66.80" rx="0.7" fill="#c6cfdd" stroke="#565b66" stroke-width="0.8"/>
<path d="M566.95 601.00L569.75 598.20L572.55 601.00L569.75 603.80Z" fill="none" stroke="#4465c0" stroke-width="1.1"/>
<line x1="575.66" y1="640.60" x2="575.66" y2="646.20" stroke="#5a78c6" stroke-width="1"/>
<line x1="575.66" y1="676.60" x2="575.66" y2="681.40" stroke="#5a78c6" stroke-width="1"/>
<rect x="574.41" y="646.20" width="2.5" height="30.40" rx="0.7" fill="#c6cfdd" stroke="#565b66" stroke-width="0.8"/>
<path d="M572.86 663.40L575.66 660.60L578.46 663.40L575.66 666.20Z" fill="none" stroke="#4465c0" stroke-width="1.1"/>
<line x1="581.57" y1="630.00" x2="581.57" y2="658.50" stroke="#5a78c6" stroke-width="1"/>
<rect x="580.32" y="658.50" width="2.5" height="22.50" rx="0.7" fill="#c6cfdd" stroke="#565b66" stroke-width="0.8"/>
<path d="M578.77 676.60L581.57 673.80L584.37 676.60L581.57 679.40Z" fill="none" stroke="#4465c0" stroke-width="1.1"/>
<circle cx="581.57" cy="733.30" r="1.7" fill="none" stroke="#333333" stroke-width="0.85"/>
<line x1="587.48" y1="576.60" x2="587.48" y2="596.50" stroke="#5a78c6" stroke-width="1"/>
<line x1="587.48" y1="632.90" x2="587.48" y2="647.30" stroke="#5a78c6" stroke-width="1"/>
<rect x="586.23" y="596.50" width="2.5" height="36.40" rx="0.7" fill="#c6cfdd" stroke="#565b66" stroke-width="0.8"/>
<path d="M584.68 611.00L587.48 608.20L590.28 611.00L587.48 613.80Z" fill="none" stroke="#4465c0" stroke-width="1.1"/>
<line x1="593.39" y1="678.00" x2="593.39" y2="702.20" stroke="#5a78c6" stroke-width="1"/>
<line x1="593.39" y1="746.90" x2="593.39" y2="754.50" stroke="#5a78c6" stroke-width="1"/>
<rect x="592.14" y="702.20" width="2.5" height="44.70" rx="0.7" fill="#c6cfdd" stroke="#565b66" stroke-width="0.8"/>
<path d="M590.59 723.50L593.39 720.70L596.19 723.50L593.39 726.30Z" fill="none" stroke="#4465c0" stroke-width="1.1"/>
<line x1="599.30" y1="674.40" x2="599.30" y2="693.00" stroke="#5a78c6" stroke-width="1"/>
<line x1="599.30" y1="737.80" x2="599.30" y2="758.50" stroke="#5a78c6" stroke-width="1"/>
<rect x="598.05" y="693.00" width="2.5" height="44.80" rx="0.7" fill="#c6cfdd" stroke="#565b66" stroke-width="0.8"/>
<path d="M596.50 717.00L599.30 714.20L602.10 717.00L599.30 719.80Z" fill="none" stroke="#4465c0" stroke-width="1.1"/>
<line x1="605.21" y1="575.80" x2="605.21" y2="596.50" stroke="#5a78c6" stroke-width="1"/>
<line x1="605.21" y1="668.50" x2="605.21" y2="695.40" stroke="#5a78c6" stroke-width="1"/>
<rect x="603.96" y="596.50" width="2.5" height="72.00" rx="0.7" fill="#c6cfdd" stroke="#565b66" stroke-width="0.8"/>
<path d="M602.41 637.80L605.21 635.00L608.01 637.80L605.21 640.60Z" fill="none" stroke="#4465c0" stroke-width="1.1"/>
<line x1="611.12" y1="627.30" x2="611.12" y2="639.60" stroke="#5a78c6" stroke-width="1"/>
<line x1="611.12" y1="682.50" x2="611.12" y2="706.00" stroke="#5a78c6" stroke-width="1"/>
<rect x="609.87" y="639.60" width="2.5" height="42.90" rx="0.7" fill="#c6cfdd" stroke="#565b66" stroke-width="0.8"/>
<path d="M608.32 667.40L611.12 664.60L613.92 667.40L611.12 670.20Z" fill="none" stroke="#4465c0" stroke-width="1.1"/>
<line x1="617.03" y1="729.80" x2="617.03" y2="748.00" stroke="#5a78c6" stroke-width="1"/>
<rect x="615.78" y="748.00" width="2.5" height="17.30" rx="0.7" fill="#c6cfdd" stroke="#565b66" stroke-width="0.8"/>
<path d="M614.23 758.00L617.03 755.20L619.83 758.00L617.03 760.80Z" fill="none" stroke="#4465c0" stroke-width="1.1"/>
<circle cx="617.03" cy="798.90" r="1.7" fill="none" stroke="#333333" stroke-width="0.85"/>
<line x1="622.94" y1="638.50" x2="622.94" y2="659.00" stroke="#5a78c6" stroke-width="1"/>
<rect x="621.69" y="613.70" width="2.5" height="24.80" rx="0.7" fill="#c6cfdd" stroke="#565b66" stroke-width="0.8"/>
<path d="M620.14 620.00L622.94 617.20L625.74 620.00L622.94 622.80Z" fill="none" stroke="#4465c0" stroke-width="1.1"/>
<circle cx="622.94" cy="562.10" r="1.7" fill="none" stroke="#333333" stroke-width="0.85"/>
<line x1="628.85" y1="716.50" x2="628.85" y2="721.60" stroke="#5a78c6" stroke-width="1"/>
<rect x="627.60" y="669.70" width="2.5" height="46.80" rx="0.7" fill="#c6cfdd" stroke="#565b66" stroke-width="0.8"/>
<path d="M626.05 692.00L628.85 689.20L631.65 692.00L628.85 694.80Z" fill="none" stroke="#4465c0" stroke-width="1.1"/>
<line x1="634.76" y1="576.10" x2="634.76" y2="598.00" stroke="#5a78c6" stroke-width="1"/>
<line x1="634.76" y1="631.30" x2="634.76" y2="635.90" stroke="#5a78c6" stroke-width="1"/>
<rect x="633.51" y="598.00" width="2.5" height="33.30" rx="0.7" fill="#c6cfdd" stroke="#565b66" stroke-width="0.8"/>
<path d="M631.96 608.40L634.76 605.60L637.56 608.40L634.76 611.20Z" fill="none" stroke="#4465c0" stroke-width="1.1"/>
<line x1="640.67" y1="565.90" x2="640.67" y2="598.00" stroke="#5a78c6" stroke-width="1"/>
<line x1="640.67" y1="640.70" x2="640.67" y2="647.70" stroke="#5a78c6" stroke-width="1"/>
<rect x="639.42" y="598.00" width="2.5" height="42.70" rx="0.7" fill="#c6cfdd" stroke="#565b66" stroke-width="0.8"/>
<path d="M637.87 614.40L640.67 611.60L643.47 614.40L640.67 617.20Z" fill="none" stroke="#4465c0" stroke-width="1.1"/>
<line x1="646.58" y1="653.30" x2="646.58" y2="655.40" stroke="#5a78c6" stroke-width="1"/>
<line x1="646.58" y1="717.20" x2="646.58" y2="736.20" stroke="#5a78c6" stroke-width="1"/>
<rect x="645.33" y="655.40" width="2.5" height="61.80" rx="0.7" fill="#c6cfdd" stroke="#565b66" stroke-width="0.8"/>
<path d="M643.78 689.20L646.58 686.40L649.38 689.20L646.58 692.00Z" fill="none" stroke="#4465c0" stroke-width="1.1"/>
<line x1="652.49" y1="675.70" x2="652.49" y2="704.30" stroke="#5a78c6" stroke-width="1"/>
<line x1="652.49" y1="725.30" x2="652.49" y2="739.70" stroke="#5a78c6" stroke-width="1"/>
<rect x="651.24" y="704.30" width="2.5" height="21.00" rx="0.7" fill="#c6cfdd" stroke="#565b66" stroke-width="0.8"/>
<path d="M649.69 713.80L652.49 711.00L655.29 713.80L652.49 716.60Z" fill="none" stroke="#4465c0" stroke-width="1.1"/>
<line x1="658.40" y1="568.70" x2="658.40" y2="598.00" stroke="#5a78c6" stroke-width="1"/>
<line x1="658.40" y1="629.50" x2="658.40" y2="632.30" stroke="#5a78c6" stroke-width="1"/>
<rect x="657.15" y="598.00" width="2.5" height="31.50" rx="0.7" fill="#c6cfdd" stroke="#565b66" stroke-width="0.8"/>
<path d="M655.60 607.10L658.40 604.30L661.20 607.10L658.40 609.90Z" fill="none" stroke="#4465c0" stroke-width="1.1"/>
<line x1="664.31" y1="672.90" x2="664.31" y2="688.30" stroke="#5a78c6" stroke-width="1"/>
<line x1="664.31" y1="715.50" x2="664.31" y2="727.80" stroke="#5a78c6" stroke-width="1"/>
<rect x="663.06" y="688.30" width="2.5" height="27.20" rx="0.7" fill="#c6cfdd" stroke="#565b66" stroke-width="0.8"/>
<path d="M661.51 701.50L664.31 698.70L667.11 701.50L664.31 704.30Z" fill="none" stroke="#4465c0" stroke-width="1.1"/>
<line x1="670.22" y1="740.00" x2="670.22" y2="744.10" stroke="#5a78c6" stroke-width="1"/>
<line x1="670.22" y1="779.20" x2="670.22" y2="793.60" stroke="#5a78c6" stroke-width="1"/>
<rect x="668.97" y="744.10" width="2.5" height="35.10" rx="0.7" fill="#c6cfdd" stroke="#565b66" stroke-width="0.8"/>
<path d="M667.42 763.90L670.22 761.10L673.02 763.90L670.22 766.70Z" fill="none" stroke="#4465c0" stroke-width="1.1"/>
<line x1="676.13" y1="570.10" x2="676.13" y2="615.50" stroke="#5a78c6" stroke-width="1"/>
<line x1="676.13" y1="689.70" x2="676.13" y2="705.50" stroke="#5a78c6" stroke-width="1"/>
<rect x="674.88" y="615.50" width="2.5" height="74.20" rx="0.7" fill="#c6cfdd" stroke="#565b66" stroke-width="0.8"/>
<path d="M673.33 650.10L676.13 647.30L678.93 650.10L676.13 652.90Z" fill="none" stroke="#4465c0" stroke-width="1.1"/>
<line x1="682.04" y1="683.10" x2="682.04" y2="702.90" stroke="#5a78c6" stroke-width="1"/>
<line x1="682.04" y1="762.60" x2="682.04" y2="771.70" stroke="#5a78c6" stroke-width="1"/>
<rect x="680.79" y="702.90" width="2.5" height="59.70" rx="0.7" fill="#c6cfdd" stroke="#565b66" stroke-width="0.8"/>
<path d="M679.24 732.00L682.04 729.20L684.84 732.00L682.04 734.80Z" fill="none" stroke="#4465c0" stroke-width="1.1"/>
<rect x="686.70" y="594.50" width="2.5" height="9.10" rx="0.7" fill="#c6cfdd" stroke="#565b66" stroke-width="0.8"/>
<path d="M685.15 597.00L687.95 594.20L690.75 597.00L687.95 599.80Z" fill="none" stroke="#4465c0" stroke-width="1.1"/>
<circle cx="687.95" cy="572.90" r="1.7" fill="none" stroke="#333333" stroke-width="0.85"/>
<circle cx="687.95" cy="620.40" r="1.7" fill="none" stroke="#333333" stroke-width="0.85"/>
<line x1="693.86" y1="556.10" x2="693.86" y2="584.10" stroke="#5a78c6" stroke-width="1"/>
<line x1="693.86" y1="617.20" x2="693.86" y2="636.50" stroke="#5a78c6" stroke-width="1"/>
<rect x="692.61" y="584.10" width="2.5" height="33.10" rx="0.7" fill="#c6cfdd" stroke="#565b66" stroke-width="0.8"/>
<path d="M691.06 601.50L693.86 598.70L696.66 601.50L693.86 604.30Z" fill="none" stroke="#4465c0" stroke-width="1.1"/>
<rect x="698.52" y="671.50" width="2.5" height="3.50" rx="0.7" fill="#c6cfdd" stroke="#565b66" stroke-width="0.8"/>
<path d="M696.97 670.00L699.77 667.20L702.57 670.00L699.77 672.80Z" fill="none" stroke="#4465c0" stroke-width="1.1"/>
<circle cx="699.77" cy="629.20" r="1.7" fill="none" stroke="#333333" stroke-width="0.85"/>
<circle cx="699.77" cy="706.70" r="1.7" fill="none" stroke="#333333" stroke-width="0.85"/>
<line x1="705.68" y1="611.30" x2="705.68" y2="636.80" stroke="#5a78c6" stroke-width="1"/>
<line x1="705.68" y1="667.30" x2="705.68" y2="703.60" stroke="#5a78c6" stroke-width="1"/>
<rect x="704.43" y="636.80" width="2.5" height="30.50" rx="0.7" fill="#c6cfdd" stroke="#565b66" stroke-width="0.8"/>
<path d="M702.88 656.00L705.68 653.20L708.48 656.00L705.68 658.80Z" fill="none" stroke="#4465c0" stroke-width="1.1"/>
<line x1="711.59" y1="611.60" x2="711.59" y2="622.20" stroke="#5a78c6" stroke-width="1"/>
<line x1="711.59" y1="706.40" x2="711.59" y2="734.30" stroke="#5a78c6" stroke-width="1"/>
<rect x="710.34" y="622.20" width="2.5" height="84.20" rx="0.7" fill="#c6cfdd" stroke="#565b66" stroke-width="0.8"/>
<path d="M708.79 668.50L711.59 665.70L714.39 668.50L711.59 671.30Z" fill="none" stroke="#4465c0" stroke-width="1.1"/>
<line x1="717.50" y1="691.00" x2="717.50" y2="701.30" stroke="#5a78c6" stroke-width="1"/>
<line x1="717.50" y1="791.50" x2="717.50" y2="834.60" stroke="#5a78c6" stroke-width="1"/>
<rect x="716.25" y="701.30" width="2.5" height="90.20" rx="0.7" fill="#c6cfdd" stroke="#565b66" stroke-width="0.8"/>
<path d="M714.70 758.80L717.50 756.00L720.30 758.80L717.50 761.60Z" fill="none" stroke="#4465c0" stroke-width="1.1"/>
<line x1="723.41" y1="635.10" x2="723.41" y2="669.10" stroke="#5a78c6" stroke-width="1"/>
<rect x="722.16" y="669.10" width="2.5" height="34.50" rx="0.7" fill="#c6cfdd" stroke="#565b66" stroke-width="0.8"/>
<path d="M720.61 693.80L723.41 691.00L726.21 693.80L723.41 696.60Z" fill="none" stroke="#4465c0" stroke-width="1.1"/>
<circle cx="723.41" cy="768.20" r="1.7" fill="none" stroke="#333333" stroke-width="0.85"/>
<line x1="729.32" y1="640.00" x2="729.32" y2="645.40" stroke="#5a78c6" stroke-width="1"/>
<line x1="729.32" y1="661.50" x2="729.32" y2="679.90" stroke="#5a78c6" stroke-width="1"/>
<rect x="728.07" y="645.40" width="2.5" height="16.10" rx="0.7" fill="#c6cfdd" stroke="#565b66" stroke-width="0.8"/>
<path d="M726.52 656.60L729.32 653.80L732.12 656.60L729.32 659.40Z" fill="none" stroke="#4465c0" stroke-width="1.1"/>
<line x1="735.23" y1="582.70" x2="735.23" y2="606.40" stroke="#5a78c6" stroke-width="1"/>
<line x1="735.23" y1="650.70" x2="735.23" y2="669.00" stroke="#5a78c6" stroke-width="1"/>
<rect x="733.98" y="606.40" width="2.5" height="44.30" rx="0.7" fill="#c6cfdd" stroke="#565b66" stroke-width="0.8"/>
<path d="M732.43 631.40L735.23 628.60L738.03 631.40L735.23 634.20Z" fill="none" stroke="#4465c0" stroke-width="1.1"/>
<line x1="741.14" y1="666.00" x2="741.14" y2="711.30" stroke="#5a78c6" stroke-width="1"/>
<line x1="741.14" y1="754.60" x2="741.14" y2="805.50" stroke="#5a78c6" stroke-width="1"/>
<rect x="739.89" y="711.30" width="2.5" height="43.30" rx="0.7" fill="#c6cfdd" stroke="#565b66" stroke-width="0.8"/>
<path d="M738.34 736.20L741.14 733.40L743.94 736.20L741.14 739.00Z" fill="none" stroke="#4465c0" stroke-width="1.1"/>
<line x1="747.05" y1="491.00" x2="747.05" y2="637.40" stroke="#5a78c6" stroke-width="1"/>
<line x1="747.05" y1="773.20" x2="747.05" y2="783.60" stroke="#5a78c6" stroke-width="1"/>
<rect x="745.80" y="637.40" width="2.5" height="135.80" rx="0.7" fill="#c6cfdd" stroke="#565b66" stroke-width="0.8"/>
<path d="M744.25 688.70L747.05 685.90L749.85 688.70L747.05 691.50Z" fill="none" stroke="#4465c0" stroke-width="1.1"/>
<line x1="752.96" y1="544.10" x2="752.96" y2="577.00" stroke="#5a78c6" stroke-width="1"/>
<line x1="752.96" y1="634.60" x2="752.96" y2="642.40" stroke="#5a78c6" stroke-width="1"/>
<rect x="751.71" y="577.00" width="2.5" height="57.60" rx="0.7" fill="#c6cfdd" stroke="#565b66" stroke-width="0.8"/>
<path d="M750.16 602.90L752.96 600.10L755.76 602.90L752.96 605.70Z" fill="none" stroke="#4465c0" stroke-width="1.1"/>
<line x1="758.87" y1="603.60" x2="758.87" y2="611.00" stroke="#5a78c6" stroke-width="1"/>
<line x1="758.87" y1="653.50" x2="758.87" y2="671.40" stroke="#5a78c6" stroke-width="1"/>
<rect x="757.62" y="611.00" width="2.5" height="42.50" rx="0.7" fill="#c6cfdd" stroke="#565b66" stroke-width="0.8"/>
<path d="M756.07 635.50L758.87 632.70L761.67 635.50L758.87 638.30Z" fill="none" stroke="#4465c0" stroke-width="1.1"/>
<rect x="763.53" y="659.50" width="2.5" height="3.90" rx="0.7" fill="#c6cfdd" stroke="#565b66" stroke-width="0.8"/>
<path d="M761.78 654.30L764.78 651.30L767.78 654.30L764.78 657.30Z" fill="#ffffff" stroke="#4a69c2" stroke-width="1.0"/>
<circle cx="764.78" cy="598.70" r="1.7" fill="none" stroke="#333333" stroke-width="0.85"/>
<circle cx="764.78" cy="691.30" r="1.7" fill="none" stroke="#333333" stroke-width="0.85"/>
<line x1="770.69" y1="642.00" x2="770.69" y2="646.90" stroke="#5a78c6" stroke-width="1"/>
<line x1="770.69" y1="761.20" x2="770.69" y2="767.60" stroke="#5a78c6" stroke-width="1"/>
<rect x="769.44" y="646.90" width="2.5" height="114.30" rx="0.7" fill="#c6cfdd" stroke="#565b66" stroke-width="0.8"/>
<path d="M767.89 701.70L770.69 698.90L773.49 701.70L770.69 704.50Z" fill="none" stroke="#4465c0" stroke-width="1.1"/>
<line x1="776.60" y1="639.90" x2="776.60" y2="664.40" stroke="#5a78c6" stroke-width="1"/>
<line x1="776.60" y1="703.10" x2="776.60" y2="727.60" stroke="#5a78c6" stroke-width="1"/>
<rect x="775.35" y="664.40" width="2.5" height="38.70" rx="0.7" fill="#c6cfdd" stroke="#565b66" stroke-width="0.8"/>
<path d="M773.80 681.00L776.60 678.20L779.40 681.00L776.60 683.80Z" fill="none" stroke="#4465c0" stroke-width="1.1"/>
<line x1="782.51" y1="724.30" x2="782.51" y2="732.70" stroke="#5a78c6" stroke-width="1"/>
<rect x="781.26" y="711.30" width="2.5" height="13.00" rx="0.7" fill="#c6cfdd" stroke="#565b66" stroke-width="0.8"/>
<path d="M779.71 716.20L782.51 713.40L785.31 716.20L782.51 719.00Z" fill="none" stroke="#4465c0" stroke-width="1.1"/>
<circle cx="782.51" cy="691.40" r="1.7" fill="none" stroke="#333333" stroke-width="0.85"/>
<line x1="788.42" y1="685.40" x2="788.42" y2="692.10" stroke="#5a78c6" stroke-width="1"/>
<line x1="788.42" y1="732.00" x2="788.42" y2="766.50" stroke="#5a78c6" stroke-width="1"/>
<rect x="787.17" y="692.10" width="2.5" height="39.90" rx="0.7" fill="#c6cfdd" stroke="#565b66" stroke-width="0.8"/>
<path d="M785.62 719.40L788.42 716.60L791.22 719.40L788.42 722.20Z" fill="none" stroke="#4465c0" stroke-width="1.1"/>
<line x1="794.33" y1="614.80" x2="794.33" y2="624.30" stroke="#5a78c6" stroke-width="1"/>
<line x1="794.33" y1="662.30" x2="794.33" y2="684.40" stroke="#5a78c6" stroke-width="1"/>
<rect x="793.08" y="624.30" width="2.5" height="38.00" rx="0.7" fill="#c6cfdd" stroke="#565b66" stroke-width="0.8"/>
<path d="M791.53 648.70L794.33 645.90L797.13 648.70L794.33 651.50Z" fill="none" stroke="#4465c0" stroke-width="1.1"/>
<line x1="800.24" y1="738.50" x2="800.24" y2="743.40" stroke="#5a78c6" stroke-width="1"/>
<line x1="800.24" y1="786.10" x2="800.24" y2="797.60" stroke="#5a78c6" stroke-width="1"/>
<rect x="798.99" y="743.40" width="2.5" height="42.70" rx="0.7" fill="#c6cfdd" stroke="#565b66" stroke-width="0.8"/>
<path d="M797.44 762.70L800.24 759.90L803.04 762.70L800.24 765.50Z" fill="none" stroke="#4465c0" stroke-width="1.1"/>
<rect x="804.90" y="646.20" width="2.5" height="8.80" rx="0.7" fill="#c6cfdd" stroke="#565b66" stroke-width="0.8"/>
<path d="M803.35 650.00L806.15 647.20L808.95 650.00L806.15 652.80Z" fill="none" stroke="#4465c0" stroke-width="1.1"/>
<line x1="812.06" y1="674.20" x2="812.06" y2="688.00" stroke="#5a78c6" stroke-width="1"/>
<rect x="810.81" y="605.20" width="2.5" height="69.00" rx="0.7" fill="#c6cfdd" stroke="#565b66" stroke-width="0.8"/>
<path d="M809.26 636.70L812.06 633.90L814.86 636.70L812.06 639.50Z" fill="none" stroke="#4465c0" stroke-width="1.1"/>
<line x1="817.97" y1="627.10" x2="817.97" y2="632.20" stroke="#5a78c6" stroke-width="1"/>
<line x1="817.97" y1="663.40" x2="817.97" y2="704.00" stroke="#5a78c6" stroke-width="1"/>
<rect x="816.72" y="632.20" width="2.5" height="31.20" rx="0.7" fill="#c6cfdd" stroke="#565b66" stroke-width="0.8"/>
<path d="M815.17 654.90L817.97 652.10L820.77 654.90L817.97 657.70Z" fill="none" stroke="#4465c0" stroke-width="1.1"/>
<line x1="823.88" y1="615.00" x2="823.88" y2="622.00" stroke="#5a78c6" stroke-width="1"/>
<line x1="823.88" y1="665.50" x2="823.88" y2="681.20" stroke="#5a78c6" stroke-width="1"/>
<rect x="822.63" y="622.00" width="2.5" height="43.50" rx="0.7" fill="#c6cfdd" stroke="#565b66" stroke-width="0.8"/>
<path d="M821.08 642.40L823.88 639.60L826.68 642.40L823.88 645.20Z" fill="none" stroke="#4465c0" stroke-width="1.1"/>
<line x1="829.79" y1="667.50" x2="829.79" y2="669.00" stroke="#5a78c6" stroke-width="1"/>
<line x1="829.79" y1="712.70" x2="829.79" y2="731.50" stroke="#5a78c6" stroke-width="1"/>
<rect x="828.54" y="669.00" width="2.5" height="43.70" rx="0.7" fill="#c6cfdd" stroke="#565b66" stroke-width="0.8"/>
<path d="M826.99 694.40L829.79 691.60L832.59 694.40L829.79 697.20Z" fill="none" stroke="#4465c0" stroke-width="1.1"/>
<text x="704.70" y="631.50" font-size="6.0" text-anchor="start" font-weight="normal" fill="#1a1a1a" >139</text>
<text x="694.60" y="709.00" font-size="6.0" text-anchor="end" font-weight="normal" fill="#1a1a1a" >136</text>
<text x="770.70" y="601.00" font-size="6.0" text-anchor="start" font-weight="normal" fill="#1a1a1a" >191</text>
<text x="760.00" y="693.60" font-size="6.0" text-anchor="end" font-weight="normal" fill="#1a1a1a" >195</text>
<line x1="540.20" y1="842.30" x2="540.20" y2="845.60" stroke="#b2b7bd" stroke-width="1"/>
<text transform="translate(535.40,852.40) rotate(45)" font-size="7.8" fill="#000">1</text>
<line x1="552.02" y1="842.30" x2="552.02" y2="845.60" stroke="#b2b7bd" stroke-width="1"/>
<text transform="translate(547.22,852.40) rotate(45)" font-size="7.8" fill="#000">3</text>
<line x1="563.84" y1="842.30" x2="563.84" y2="845.60" stroke="#b2b7bd" stroke-width="1"/>
<text transform="translate(559.04,852.40) rotate(45)" font-size="7.8" fill="#000">5</text>
<line x1="575.66" y1="842.30" x2="575.66" y2="845.60" stroke="#b2b7bd" stroke-width="1"/>
<text transform="translate(570.86,852.40) rotate(45)" font-size="7.8" fill="#000">7</text>
<line x1="587.48" y1="842.30" x2="587.48" y2="845.60" stroke="#b2b7bd" stroke-width="1"/>
<text transform="translate(582.68,852.40) rotate(45)" font-size="7.8" fill="#000">9</text>
<line x1="599.30" y1="842.30" x2="599.30" y2="845.60" stroke="#b2b7bd" stroke-width="1"/>
<text transform="translate(594.50,852.40) rotate(45)" font-size="7.8" fill="#000">11</text>
<line x1="611.12" y1="842.30" x2="611.12" y2="845.60" stroke="#b2b7bd" stroke-width="1"/>
<text transform="translate(606.32,852.40) rotate(45)" font-size="7.8" fill="#000">13</text>
<line x1="622.94" y1="842.30" x2="622.94" y2="845.60" stroke="#b2b7bd" stroke-width="1"/>
<text transform="translate(618.14,852.40) rotate(45)" font-size="7.8" fill="#000">15</text>
<line x1="634.76" y1="842.30" x2="634.76" y2="845.60" stroke="#b2b7bd" stroke-width="1"/>
<text transform="translate(629.96,852.40) rotate(45)" font-size="7.8" fill="#000">17</text>
<line x1="646.58" y1="842.30" x2="646.58" y2="845.60" stroke="#b2b7bd" stroke-width="1"/>
<text transform="translate(641.78,852.40) rotate(45)" font-size="7.8" fill="#000">19</text>
<line x1="658.40" y1="842.30" x2="658.40" y2="845.60" stroke="#b2b7bd" stroke-width="1"/>
<text transform="translate(653.60,852.40) rotate(45)" font-size="7.8" fill="#000">21</text>
<line x1="670.22" y1="842.30" x2="670.22" y2="845.60" stroke="#b2b7bd" stroke-width="1"/>
<text transform="translate(665.42,852.40) rotate(45)" font-size="7.8" fill="#000">23</text>
<line x1="682.04" y1="842.30" x2="682.04" y2="845.60" stroke="#b2b7bd" stroke-width="1"/>
<text transform="translate(677.24,852.40) rotate(45)" font-size="7.8" fill="#000">25</text>
<line x1="693.86" y1="842.30" x2="693.86" y2="845.60" stroke="#b2b7bd" stroke-width="1"/>
<text transform="translate(689.06,852.40) rotate(45)" font-size="7.8" fill="#000">27</text>
<line x1="705.68" y1="842.30" x2="705.68" y2="845.60" stroke="#b2b7bd" stroke-width="1"/>
<text transform="translate(700.88,852.40) rotate(45)" font-size="7.8" fill="#000">29</text>
<line x1="717.50" y1="842.30" x2="717.50" y2="845.60" stroke="#b2b7bd" stroke-width="1"/>
<text transform="translate(712.70,852.40) rotate(45)" font-size="7.8" fill="#000">31</text>
<line x1="729.32" y1="842.30" x2="729.32" y2="845.60" stroke="#b2b7bd" stroke-width="1"/>
<text transform="translate(724.52,852.40) rotate(45)" font-size="7.8" fill="#000">33</text>
<line x1="741.14" y1="842.30" x2="741.14" y2="845.60" stroke="#b2b7bd" stroke-width="1"/>
<text transform="translate(736.34,852.40) rotate(45)" font-size="7.8" fill="#000">35</text>
<line x1="752.96" y1="842.30" x2="752.96" y2="845.60" stroke="#b2b7bd" stroke-width="1"/>
<text transform="translate(748.16,852.40) rotate(45)" font-size="7.8" fill="#000">37</text>
<line x1="764.78" y1="842.30" x2="764.78" y2="845.60" stroke="#b2b7bd" stroke-width="1"/>
<text transform="translate(759.98,852.40) rotate(45)" font-size="7.8" fill="#000">39</text>
<line x1="776.60" y1="842.30" x2="776.60" y2="845.60" stroke="#b2b7bd" stroke-width="1"/>
<text transform="translate(771.80,852.40) rotate(45)" font-size="7.8" fill="#000">41</text>
<line x1="788.42" y1="842.30" x2="788.42" y2="845.60" stroke="#b2b7bd" stroke-width="1"/>
<text transform="translate(783.62,852.40) rotate(45)" font-size="7.8" fill="#000">43</text>
<line x1="800.24" y1="842.30" x2="800.24" y2="845.60" stroke="#b2b7bd" stroke-width="1"/>
<text transform="translate(795.44,852.40) rotate(45)" font-size="7.8" fill="#000">45</text>
<line x1="812.06" y1="842.30" x2="812.06" y2="845.60" stroke="#b2b7bd" stroke-width="1"/>
<text transform="translate(807.26,852.40) rotate(45)" font-size="7.8" fill="#000">47</text>
<line x1="823.88" y1="842.30" x2="823.88" y2="845.60" stroke="#b2b7bd" stroke-width="1"/>
<text transform="translate(819.08,852.40) rotate(45)" font-size="7.8" fill="#000">49</text>
<text x="685.30" y="872.00" font-size="8.5" text-anchor="middle" font-weight="normal" fill="#1a1a1a" >SUB</text>
<text transform="translate(489,655) rotate(-90)" font-size="9" text-anchor="middle" fill="#2a2a2a" letter-spacing="-0.65">Residual</text>
<text x="21.5" y="910.4" font-size="10.9" font-weight="bold" font-style="italic" fill="#3f4d66" textLength="536" lengthAdjust="spacingAndGlyphs">Figure8: Allmixed macro-output step6: Box-plot display of Residual fixed main and interaction effects</text>
<path d="M67.5 914.6 L70.5 911.6 L73.5 914.8 L76.5 911.6 L79.5 914.8 L82.5 911.6 L85.5 914.8 L88.5 911.6 L91.5 914.8 L94.5 911.6 L97.5 914.8 L100.5 911.6 L103.5 914.8 L106.5 911.6 L109.5 914.8 L112.5 911.6 L115.5 914.8" fill="none" stroke="#e5352f" stroke-width="1.0" stroke-linejoin="round"/>
</svg>
</body></html>
